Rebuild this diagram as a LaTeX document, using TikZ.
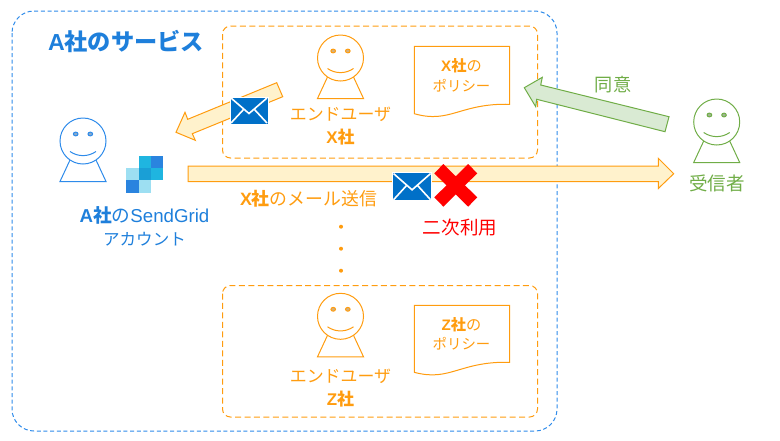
\documentclass[tikz,border=0pt]{standalone}
\usepackage{fontspec}
\setmainfont{Liberation Sans}
\newfontfamily\cjk{Noto Sans CJK JP}
\definecolor{cblue}{HTML}{2E8BEA}
\definecolor{tblue}{HTML}{1E7FDB}
\definecolor{corange}{HTML}{FF9C0F}
\definecolor{cgreen}{HTML}{70AD47}
\definecolor{fyellow}{HTML}{FFF2CC}
\definecolor{fgreen}{HTML}{D9EAD3}
\definecolor{envblue}{HTML}{0070C8}
\definecolor{sgdark}{HTML}{2A84DF}
\definecolor{sgmid}{HTML}{1A9FD6}
\definecolor{sgcyan}{HTML}{1FB5E0}
\definecolor{sglight}{HTML}{9DDFF2}
\tikzset{
  px/.style={line width=0.75pt},
  bigbox/.style={px,draw=cblue,dash pattern=on 3pt off 2pt,rounded corners=16.5pt},
  orgbox/.style={px,draw=corange,dash pattern=on 4.5pt off 2.6pt,rounded corners=6pt},
  blockarrow/.style={px,draw=corange,fill=fyellow,line join=miter},
  greenarrow/.style={px,draw=cgreen,fill=fgreen,line join=miter},
  lbl/.style={inner sep=0pt,font=\fontsize{12.7}{17}\selectfont,align=center},
  small/.style={inner sep=0pt,font=\fontsize{10.8}{14.6}\selectfont,align=center},
  sg/.style={draw=none,minimum size=9.2pt,inner sep=0pt},
  dotnode/.style={circle,fill=corange,inner sep=0pt,minimum size=3pt},
  person/.pic={
    \draw[px,draw=#1] (0,0) circle (23);
    \draw[px,draw=#1] (-13,19) -- (-23,40.5) -- (23,40.5) -- (13,19);
    \draw[px,draw=#1] (-13,10.5) .. controls (-5,16) and (5,16) .. (13,10.5);
    \draw[px,draw=#1,fill=#1!50!gray!70] (-7.3,-7) ellipse (2.3 and 1.9);
    \draw[px,draw=#1,fill=#1!50!gray!70] (7.3,-7) ellipse (2.3 and 1.9);
  },
  envelope/.pic={
    \fill[envblue,draw=white,line width=0.6pt] (0,0) rectangle (38,27);
    \draw[white,line width=1.2pt] (1,1) -- (19,16.5) -- (37,1);
    \draw[white,line width=1.2pt] (1,26) -- (14,12);
    \draw[white,line width=1.2pt] (37,26) -- (24,12);
  }
}
\begin{document}
\begin{tikzpicture}[x=0.75pt,y=-0.75pt]
\useasboundingbox (0,0) rectangle (780,440);
% frames
\draw[bigbox] (12,11) rectangle (557,431);
\draw[orgbox] (222.5,26) rectangle (537.5,158);
\draw[orgbox] (222.5,285.5) rectangle (537.5,417);
% people
\pic at (83,141) {person=cblue};
\pic at (340.5,58) {person=corange};
\pic at (340.5,316.3) {person=corange};
\pic at (716.7,122) {person=cgreen};
% policy documents
\draw[px,draw=corange,fill=white] (414.3,46.3) -- (509.7,46.3) -- (509.7,104.3) .. controls (460,103) and (450,124) .. (414.3,113.7) -- cycle;
\draw[px,draw=corange,fill=white] (414.3,305.3) -- (509.7,305.3) -- (509.7,362.3) .. controls (460,361) and (450,382) .. (414.3,372.3) -- cycle;
% block arrows
\draw[blockarrow] (276.7,82.7) -- (282.7,96.7) -- (192.3,133.7) -- (195.3,140.3) -- (176,132.3) -- (185,112.3) -- (187.7,119.3) -- cycle;
\draw[blockarrow] (188,166) -- (658.3,166) -- (658.3,158.3) -- (673.7,173.7) -- (658.3,188.5) -- (658.3,181.5) -- (188,181.5) -- cycle;
\draw[greenarrow] (669,116.7) -- (665,131.7) -- (536.7,99.3) -- (535.7,106.7) -- (524.3,87.7) -- (542.3,77.3) -- (540.7,85) -- cycle;
% envelopes
\pic at (230,97) {envelope};
\pic[xscale=1.03,yscale=1.05] at (392.5,172.5) {envelope};
% red cross
\draw[red,line width=9.75pt] (438.8,168.7) -- (472.7,202);
\draw[red,line width=9.75pt] (472.7,168.7) -- (438.8,202);
% SendGrid mark
\node[sg,fill=sgcyan] (s12) at (144.7,161.8) {};
\node[sg,fill=sgdark] (s13) at (156.9,161.8) {};
\node[sg,fill=sglight] (s21) at (132.5,174.1) {};
\node[sg,fill=sgmid] (s22) at (144.7,174.1) {};
\node[sg,fill=sgcyan] (s23) at (156.9,174.1) {};
\node[sg,fill=sgdark] (s31) at (132.5,186.5) {};
\node[sg,fill=sglight] (s32) at (144.7,186.5) {};
% dots
\node[dotnode] (d1) at (341,226.7) {};
\node[dotnode] (d2) at (341,248.7) {};
\node[dotnode] (d3) at (341,270.7) {};
% texts
\node[inner sep=0pt,text=tblue,font=\fontsize{17.4}{20}\selectfont\bfseries] (title) at (126,41) {A{\cjk 社のサービス}};
\node[lbl,text=tblue] (acct) at (144.5,226) {\fontsize{14}{17}\selectfont{\bfseries A{\cjk 社}}{\cjk の}SendGrid\\\fontsize{12.4}{17}\selectfont{\cjk アカウント}};
\node[lbl,text=corange] (xuser) at (340.5,126) {{\cjk エンドユーザ}\\{\bfseries X{\cjk 社}}};
\node[lbl,text=corange] (zuser) at (340.5,388) {{\cjk エンドユーザ}\\{\bfseries Z{\cjk 社}}};
\node[small,text=corange] (xpol) at (461.5,75.5) {{\bfseries\fontsize{11.4}{14.6}\selectfont X{\cjk 社}}{\fontsize{11.4}{14.6}\selectfont\cjk の}\\{\cjk ポリシー}};
\node[small,text=corange] (zpol) at (461.5,334) {{\bfseries\fontsize{11.4}{14.6}\selectfont Z{\cjk 社}}{\fontsize{11.4}{14.6}\selectfont\cjk の}\\{\cjk ポリシー}};
\node[lbl,text=corange,font=\fontsize{13.4}{17}\selectfont] (mail) at (308.5,199) {{\bfseries X{\cjk 社}}{\cjk のメール送信}};
\node[lbl,text=red,font=\fontsize{13.9}{17}\selectfont] (reuse) at (460,228) {\cjk 二次利用};
\node[lbl,text=cgreen,font=\fontsize{13.6}{17}\selectfont] (agree) at (613,85) {\cjk 同意};
\node[lbl,text=cgreen,font=\fontsize{13.9}{17}\selectfont] (rcpt) at (717,183) {\cjk 受信者};
\end{tikzpicture}
\end{document}
